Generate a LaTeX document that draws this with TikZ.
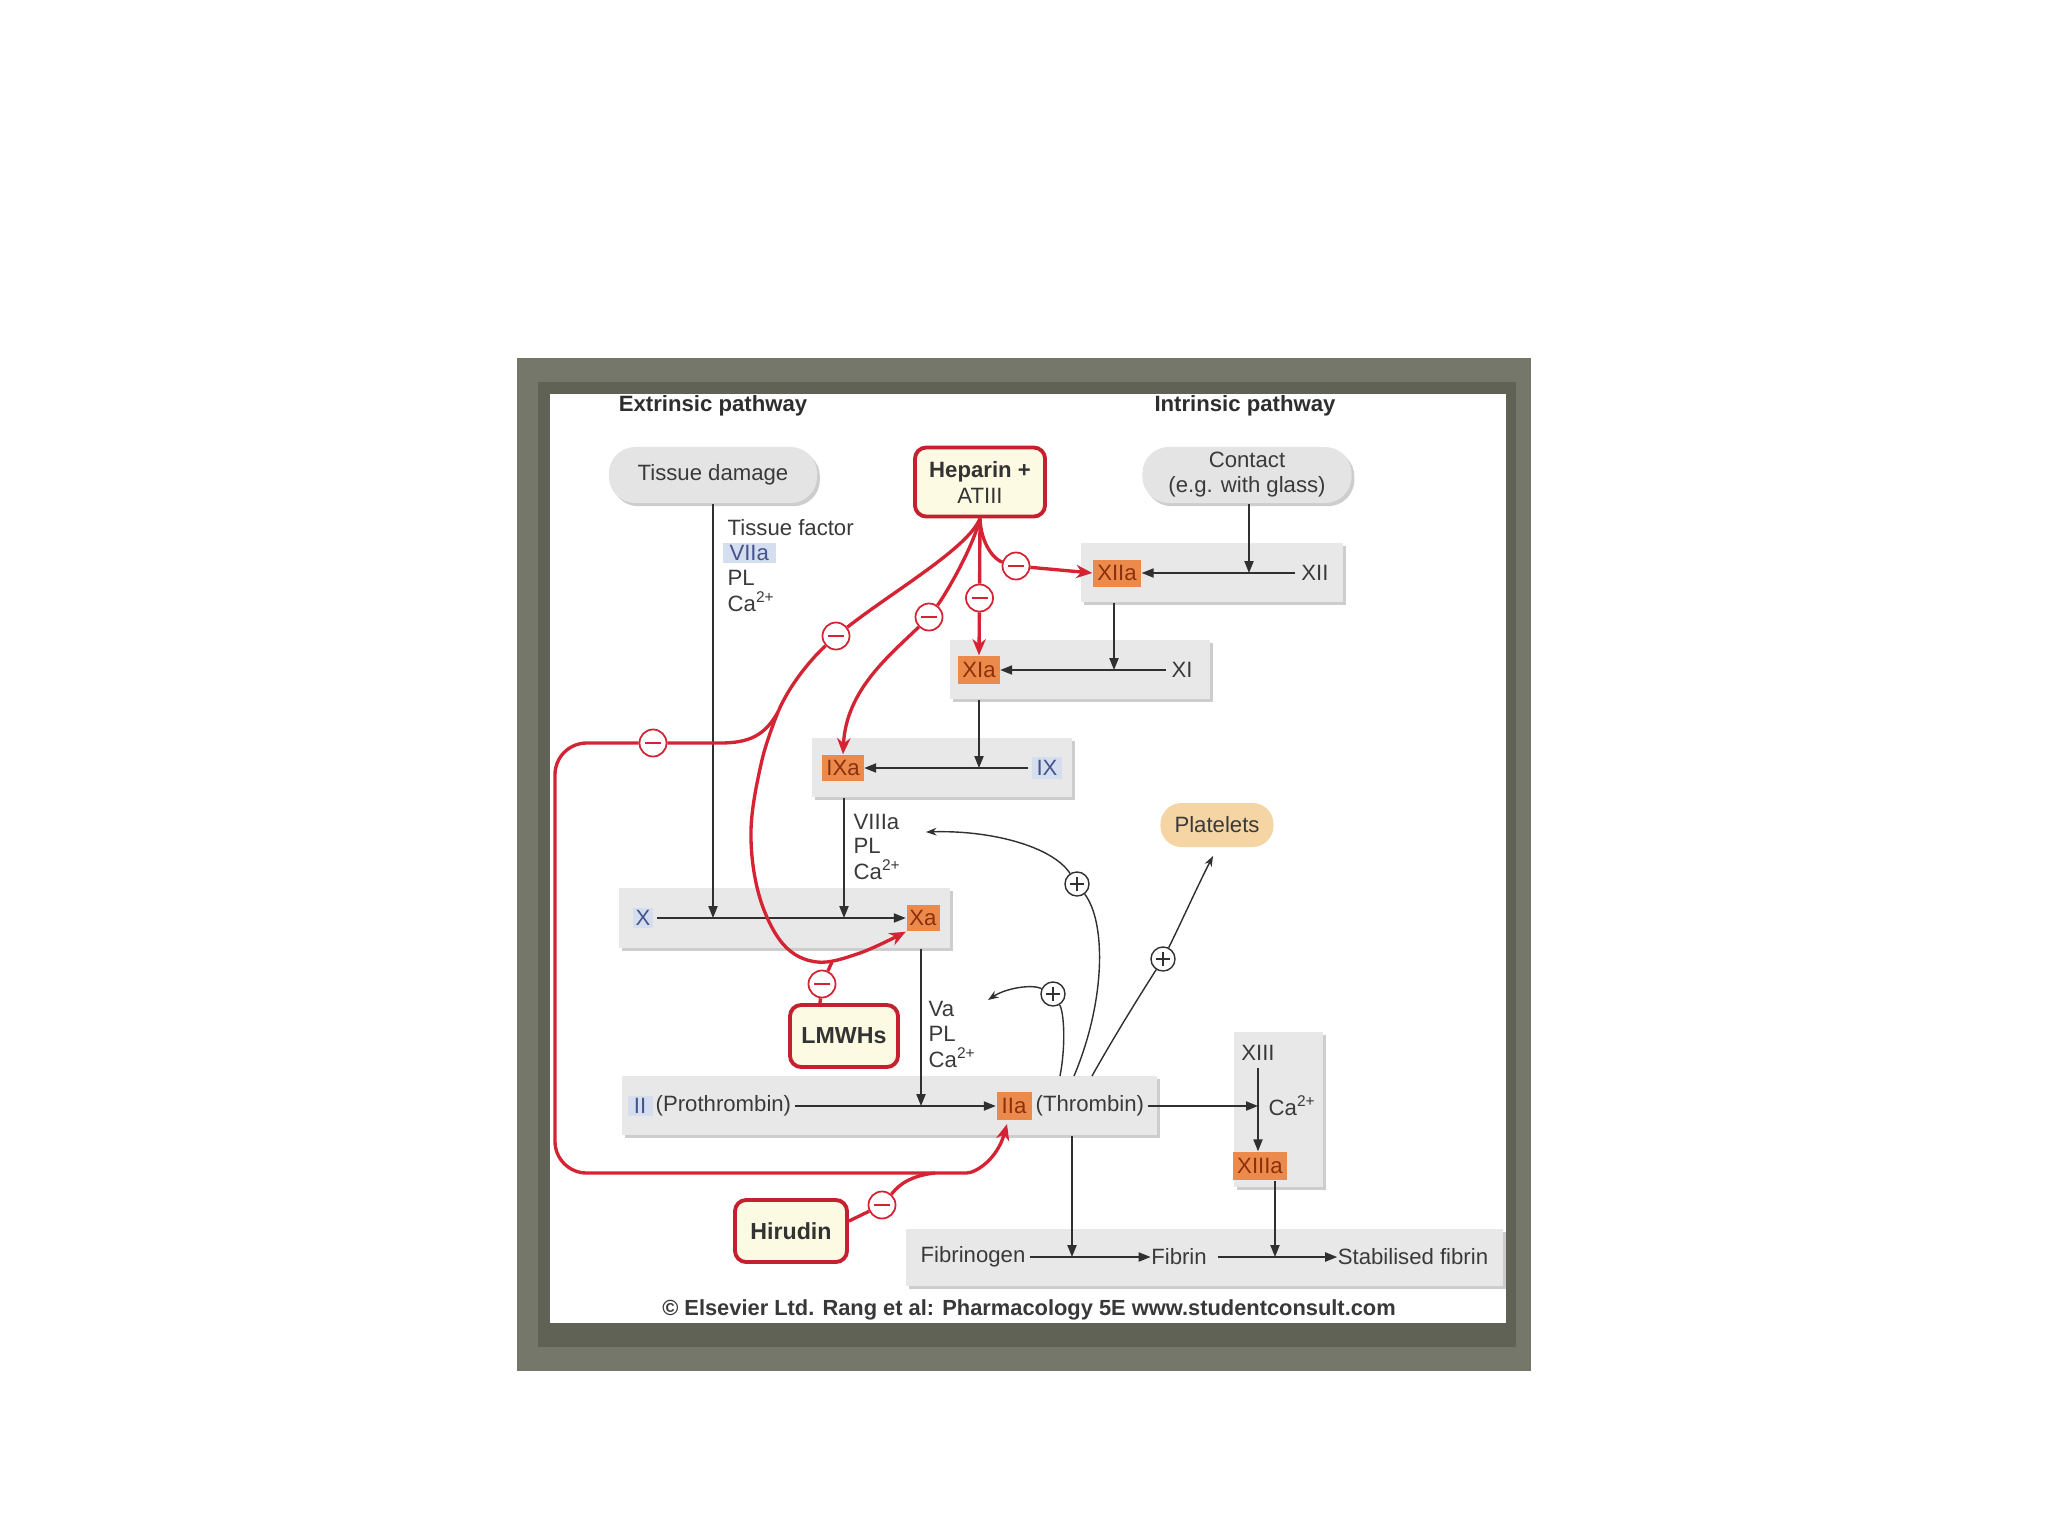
\documentclass[tikz,border=0pt]{standalone}
\usepackage{fontspec}
\setmainfont{Liberation Sans}
\usetikzlibrary{arrows.meta,shadows}
\definecolor{redc}{HTML}{D42434}
\definecolor{boxred}{HTML}{C42030}
\definecolor{cream}{HTML}{FCFAE2}
\definecolor{rowgray}{HTML}{E8E8E8}
\definecolor{shadowgray}{HTML}{CDCDCD}
\definecolor{orangef}{HTML}{EC8A4C}
\definecolor{orangetext}{HTML}{8A300C}
\definecolor{bluef}{HTML}{D4DEEF}
\definecolor{bluetext}{HTML}{44548C}
\definecolor{txt}{HTML}{3A3A3A}
\definecolor{pillgray}{HTML}{E4E4E4}
\definecolor{platelet}{HTML}{F6D5A4}
\definecolor{frameout}{HTML}{74776A}
\definecolor{framein}{HTML}{606256}
\definecolor{arrowc}{HTML}{303030}
\tikzset{
  base/.style={font=\fontsize{6.3}{7.4}\selectfont, text=txt, inner sep=0pt},
  lblw/.style={base, anchor=west},
  rowbox/.style={fill=rowgray, draw=none, inner sep=0pt,
    drop shadow={shadow xshift=0.8pt, shadow yshift=-0.9pt, fill=shadowgray, opacity=1}},
  pillbox/.style={base, fill=pillgray, rounded corners=7.5pt, align=center,
    drop shadow={shadow xshift=0.8pt, shadow yshift=-0.9pt, fill=shadowgray, opacity=1}},
  drugbox/.style={base, fill=cream, draw=boxred, line width=1.1pt, rounded corners=3.2pt, align=center, text=black!80},
  act/.style={base, fill=orangef, text=orangetext},
  zym/.style={base, fill=bluef, text=bluetext},
  arr/.style={draw=arrowc, line width=0.45pt, -{Triangle[length=3.4pt,width=2.6pt]}},
  redl/.style={draw=redc, line width=0.95pt},
  redarr/.style={redl, -{Stealth[length=4.6pt,width=3.8pt]}},
  minusc/.style={circle, fill=white, draw=redc, line width=0.5pt, minimum size=0.27cm, inner sep=0pt,
    path picture={\draw[redc, line width=0.7pt] ([xshift=-0.08cm]path picture bounding box.center) -- ([xshift=0.08cm]path picture bounding box.center);}},
  plusc/.style={circle, fill=white, draw=arrowc, line width=0.4pt, minimum size=0.24cm, inner sep=0pt,
    path picture={\draw[arrowc, line width=0.5pt] ([xshift=-0.07cm]path picture bounding box.center) -- ([xshift=0.07cm]path picture bounding box.center) ([yshift=-0.07cm]path picture bounding box.center) -- ([yshift=0.07cm]path picture bounding box.center);}},
  fb/.style={draw=arrowc, line width=0.4pt},
  fbarr/.style={fb, -{Stealth[length=3pt,width=2.2pt]}},
}
\begin{document}
\begin{tikzpicture}[x=0.01cm, y=-0.01cm]
\useasboundingbox (0,0) rectangle (2048,1536);
\fill[white] (0,0) rectangle (2048,1536);
% frame
\fill[frameout] (517,358) rectangle (1531,1371);
\fill[framein] (538,382) rectangle (1516,1347);
\fill[white] (550,394) rectangle (1506,1323);

% titles
\node[base, font=\fontsize{6.3}{7.4}\selectfont\bfseries, text=black!82] (ext) at (713,406) {Extrinsic pathway};
\node[base, font=\fontsize{6.3}{7.4}\selectfont\bfseries, text=black!82] (intr) at (1245,406) {Intrinsic pathway};

% row boxes
\node[rowbox, minimum width=2.62cm, minimum height=0.59cm] (rowXII) at (1212,572.5) {};
\node[rowbox, minimum width=2.60cm, minimum height=0.59cm] (rowXI) at (1080,669.5) {};
\node[rowbox, minimum width=2.60cm, minimum height=0.59cm] (rowIX) at (942,767.5) {};
\node[rowbox, minimum width=3.31cm, minimum height=0.60cm] (rowX) at (784.5,918) {};
\node[rowbox, minimum width=5.35cm, minimum height=0.59cm] (rowII) at (889.5,1105.5) {};
\node[rowbox, minimum width=0.89cm, minimum height=1.55cm] (rowXIII) at (1278.5,1109.5) {};
\node[rowbox, minimum width=5.97cm, minimum height=0.57cm] (rowFib) at (1204.5,1257.5) {};

% pills and drug boxes
\node[pillbox, minimum width=2.08cm, minimum height=0.56cm] (tissue) at (713,475) {Tissue damage};
\node[pillbox, minimum width=2.09cm, minimum height=0.56cm, font=\fontsize{6.3}{7.1}\selectfont] (contact) at (1247,475) {Contact\\(e.g. with glass)};
\node[base, fill=platelet, rounded corners=6pt, minimum width=1.13cm, minimum height=0.44cm] (plt) at (1217,825) {Platelets};
\node[drugbox, minimum width=1.30cm, minimum height=0.69cm, font=\fontsize{6.3}{7.4}\selectfont] (hep) at (980,482) {\textbf{Heparin +}\\ATIII};
\node[drugbox, minimum width=1.08cm, minimum height=0.62cm, font=\fontsize{6.6}{7.6}\selectfont\bfseries] (lmwh) at (844,1036) {LMWHs};
\node[drugbox, minimum width=1.12cm, minimum height=0.62cm, font=\fontsize{6.6}{7.6}\selectfont\bfseries] (hir) at (791,1231) {Hirudin};

% activated factors
\node[act, minimum width=0.48cm, minimum height=0.27cm] (xiia) at (1117,573) {XIIa};
\node[act, minimum width=0.41cm, minimum height=0.28cm] (xia) at (979,670) {XIa};
\node[act, minimum width=0.41cm, minimum height=0.26cm] (ixa) at (843,768) {IXa};
\node[act, minimum width=0.33cm, minimum height=0.26cm] (xa) at (923,918) {Xa};
\node[act, minimum width=0.35cm, minimum height=0.28cm] (iia) at (1014,1106) {IIa};
\node[act, minimum width=0.54cm, minimum height=0.28cm] (xiiia) at (1260,1166) {XIIIa};

% zymogens
\node[zym, minimum width=0.20cm, minimum height=0.20cm] (xz) at (643,918) {X};
\node[zym, minimum width=0.30cm, minimum height=0.22cm] (ixz) at (1047,768) {IX};
\node[zym, minimum width=0.25cm, minimum height=0.20cm] (iiz) at (640,1106) {II};
\node[base] (xiiz) at (1315,573) {XII};
\node[base] (xiz) at (1182,670) {XI};
\node[base] (xiiiz) at (1258,1053) {XIII};

% cofactor labels
\node[lblw] (tf) at (727,528) {Tissue factor};
\node[zym, anchor=west, minimum width=0.53cm, minimum height=0.20cm] (viia) at (722,553) {VIIa};
\node[lblw] (pl1) at (727,578) {PL};
\node[lblw] (ca1) at (727,602) {Ca\textsuperscript{2+}};
\node[lblw] (viiia) at (853,822) {VIIIa};
\node[lblw] (pl2) at (853,846) {PL};
\node[lblw] (ca2) at (853,870) {Ca\textsuperscript{2+}};
\node[lblw] (va) at (928,1009) {Va};
\node[lblw] (pl3) at (928,1034) {PL};
\node[lblw] (ca3) at (928,1058) {Ca\textsuperscript{2+}};
\node[lblw] (prot) at (655,1106) {(Prothrombin)};
\node[lblw] (thr) at (1035,1106) {(Thrombin)};
\node[lblw] (ca4) at (1268,1106) {Ca\textsuperscript{2+}};
\node[base] (fibg) at (973,1257) {Fibrinogen};
\node[base] (fib) at (1179,1257) {Fibrin};
\node[base] (stab) at (1413,1257) {Stabilised fibrin};

\node[base, text=black!78] (copy) at (1029,1310) {\resizebox{7.33cm}{!}{\bfseries © Elsevier Ltd. Rang et al: Pharmacology 5E www.studentconsult.com}};

% junction coordinates
\coordinate (jXII) at (1249,573);
\coordinate (jXI) at (1114,670);
\coordinate (jIX) at (979,768);
\coordinate (jX1) at (713,918);
\coordinate (jX2) at (844,918);
\coordinate (jII) at (921,1106);
\coordinate (jXIII) at (1258,1106);
\coordinate (jF1) at (1072,1257);
\coordinate (jF2) at (1275,1257);

% black cascade arrows
\draw[arr] (tissue.south) -- (jX1);
\draw[arr] (contact.south -| jXII) -- (jXII);
\draw[arr, shorten <=1.5pt] (xiiz.west) -- (xiia.east);
\draw[arr] (rowXII.south -| jXI) -- (jXI);
\draw[arr, shorten <=1.5pt] (xiz.west) -- (xia.east);
\draw[arr] (rowXI.south -| jIX) -- (jIX);
\draw[arr, shorten <=1pt] (ixz.west) -- (ixa.east);
\draw[arr] (rowIX.south -| jX2) -- (jX2);
\draw[arr, shorten <=1pt] (xz.east) -- (xa.west);
\draw[arr] (rowX.south -| jII) -- (jII);
\draw[arr, shorten <=1pt] (prot.east) -- (iia.west);
\draw[arr, shorten <=1pt] (thr.east) -- (jXIII);
\draw[arr, shorten <=2pt] (xiiiz.south) -- (xiiia.north -| jXIII);
\draw[arr] (rowII.south -| jF1) -- (jF1);
\draw[arr, shorten <=1pt] (fibg.east) -- (fib.west);
\draw[arr, shorten <=3pt] (fib.east) -- (stab.west);
\draw[arr] (xiiia.south -| jF2) -- (jF2);

% thrombin feedback curves
\coordinate (s1) at (1074,1076);
\coordinate (s2) at (1060,1076);
\coordinate (s3) at (1092,1076);
\coordinate (t1) at (926,832);
\coordinate (t2) at (988,1000);
\coordinate (t3) at (1213,856);
\node[plusc] (p1) at (1077,884) {};
\node[plusc] (p2) at (1053,994) {};
\node[plusc] (p3) at (1163,959) {};
\draw[fb] (s1) .. controls (1106,1000) and (1106,922) .. (p1);
\draw[fbarr] (p1) .. controls (1052,846) and (990,830) .. (t1);
\draw[fb] (s2) .. controls (1066,1045) and (1064,1012) .. (p2);
\draw[fbarr] (p2) .. controls (1032,984) and (1006,988) .. (t2);
\draw[fb] (s3) .. controls (1115,1035) and (1140,995) .. (p3);
\draw[fbarr] (p3) .. controls (1180,925) and (1198,885) .. (t3);

% inhibition (red)
\node[minusc] (m1) at (1016,566) {};
\node[minusc] (m2) at (979.5,598) {};
\node[minusc] (m3) at (929,617) {};
\node[minusc] (m4) at (836,636) {};
\node[minusc] (m5) at (653,743) {};
\node[minusc] (m6) at (822,984) {};
\node[minusc] (m7) at (882,1205) {};
\coordinate (S) at (778,712);
\coordinate (lj) at (832,962);
\coordinate (hj) at (935,1173);
\coordinate (iiat) at (1007,1124);

\draw[redl] (hep.south) .. controls (981,545) and (995,560) .. (m1);
\draw[redarr] (m1) -- (xiia.west);
\draw[redl] (hep.south) -- (m2);
\draw[redarr] (m2) -- (xia.north);
\draw[redl] (hep.south) .. controls (972,550) and (945,595) .. (m3);
\draw[redarr] (m3) .. controls (890,655) and (846,690) .. (ixa.north);
\draw[redl] (hep.south) .. controls (968,548) and (895,590) .. (m4);
\draw[redl] (m4) .. controls (808,662) and (788,688) .. (S);
\draw[redl] (S) .. controls (765,735) and (750,743) .. (720,743) -- (m5);
\draw[redarr, rounded corners=9pt] (m5) -- (555,743) -- (555,1173) -- (hj) .. controls (975,1173) and (997,1160) .. (iiat);
\draw[redarr] plot[smooth, tension=0.6] coordinates {(S) (762,760) (751,830) (759,895) (783,944) (817,962) (860,953) (xa.south west)};
\draw[redl] ([xshift=-0.24cm]lmwh.north) -- (m6);
\draw[redl] (m6) -- (lj);
\draw[redl] ([yshift=0.1cm]hir.east) -- (m7);
\draw[redl] (m7) .. controls (895,1190) and (905,1176) .. (hj);
\end{tikzpicture}
\end{document}
